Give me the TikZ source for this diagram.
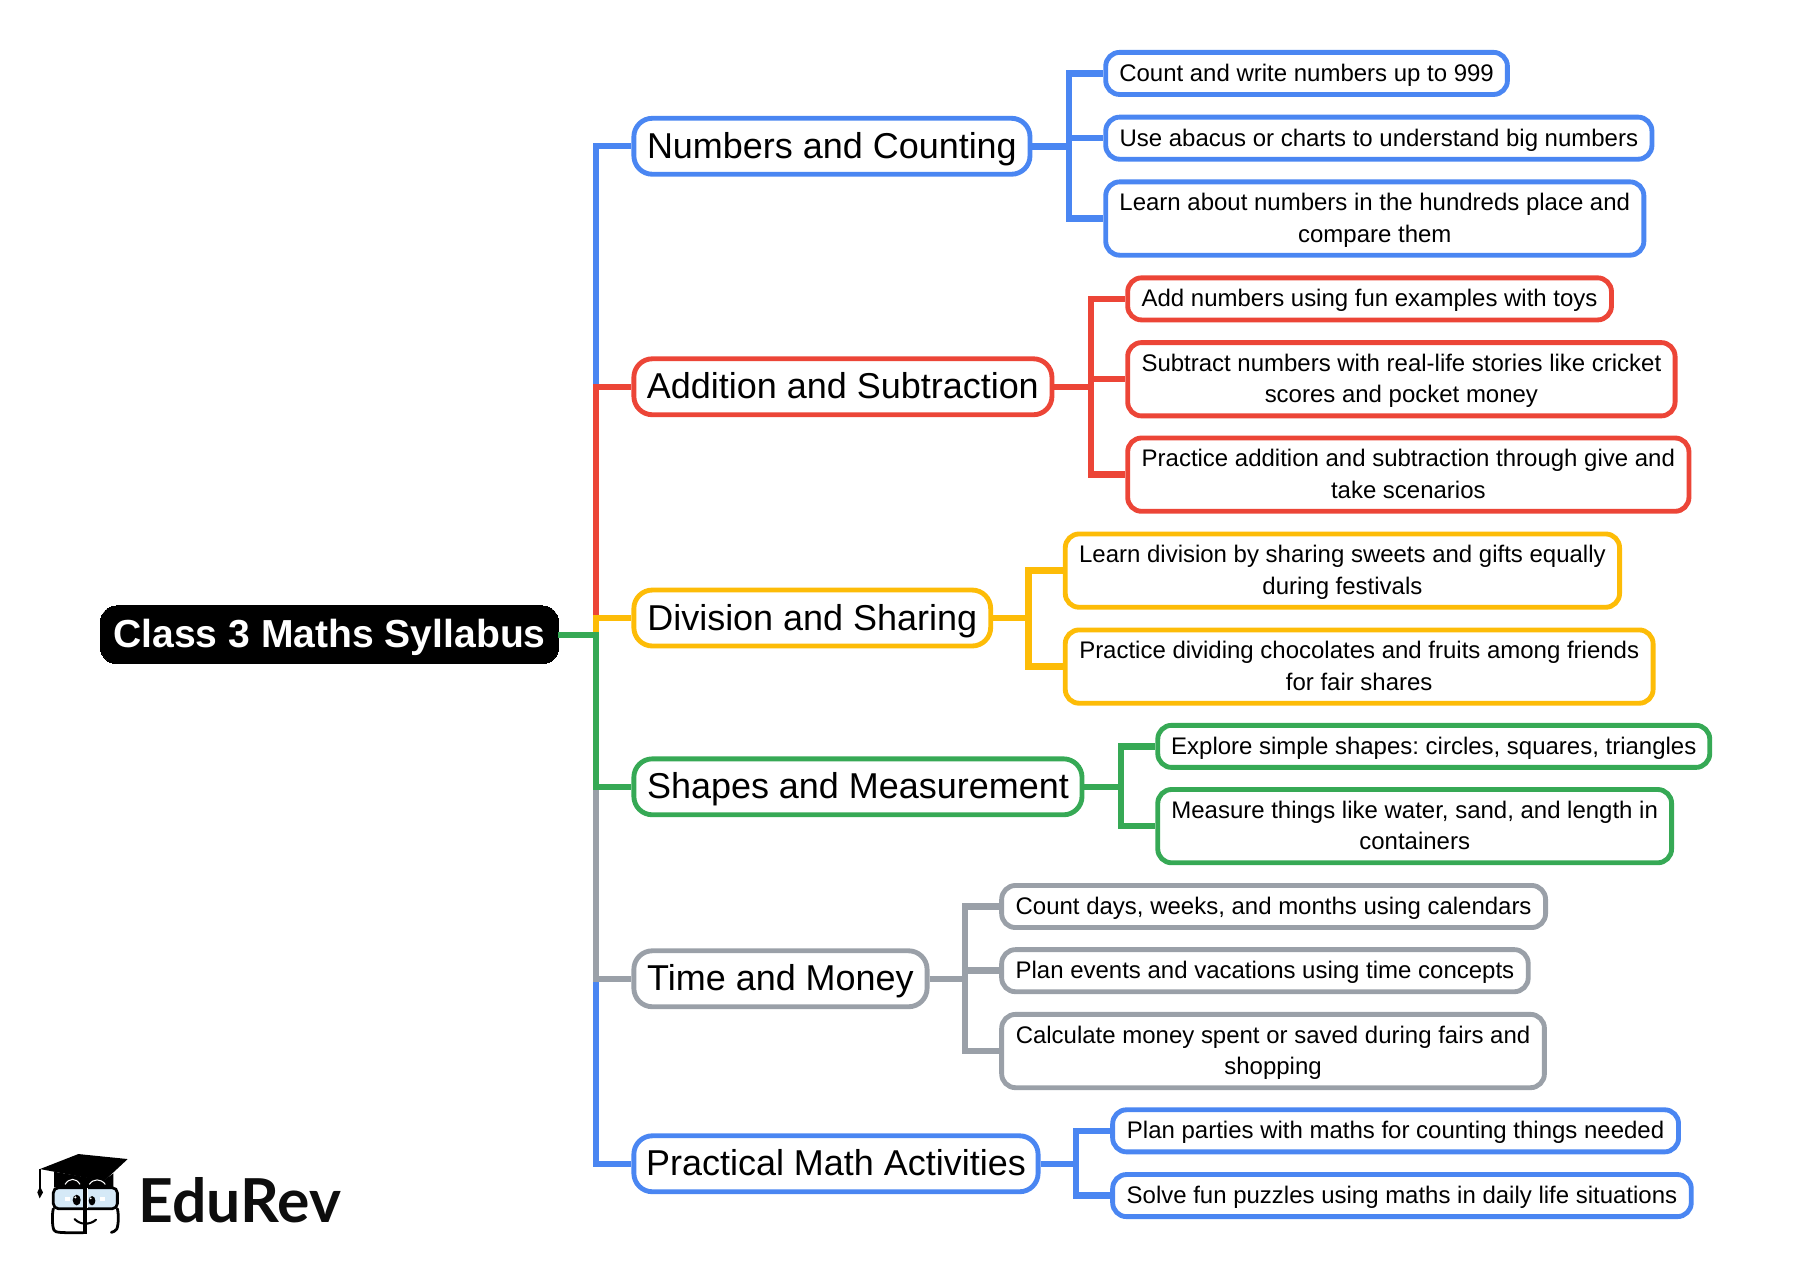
\documentclass[tikz,border=0pt]{standalone}
\usepackage{fontspec}
\setmainfont{Liberation Sans}
\newfontfamily\logofont{Lato}
\AtBeginDocument{\frenchspacing}
\definecolor{cblue}{HTML}{4A86F2}
\definecolor{cred}{HTML}{EC4537}
\definecolor{cyellow}{HTML}{FDBC07}
\definecolor{cgreen}{HTML}{36A955}
\definecolor{cgrey}{HTML}{9AA0A8}
\definecolor{lensblue}{HTML}{D5E9F7}
\newcommand{\topstrut}{\rule{0pt}{10.9pt}}
\tikzset{
  rootbox/.style={draw=black,fill=black,text=white,line width=0pt,rounded corners=7pt,inner sep=0pt,
    minimum width=198pt,minimum height=25pt,text height=13pt,text depth=2pt,font=\fontsize{16.9}{20}\selectfont\bfseries},
  branchbox/.style={draw=#1,fill=white,text=black,line width=2.1pt,rounded corners=8pt,inner sep=0pt,
    minimum height=24.2pt,text height=13pt,text depth=2.5pt,font=\fontsize{15.55}{20}\selectfont},
  leafbox/.style={draw=#1,fill=white,text=black,line width=2.1pt,rounded corners=6pt,inner sep=0pt,align=center,
    font=\fontsize{10.37}{13.6}\selectfont},
  one/.style={minimum height=18.2pt},
  two/.style={minimum height=31.7pt},
  trunkline/.style={draw=#1,line width=2.5pt},
  twigline/.style={draw=#1,line width=2.8pt},
}
\begin{document}
\begin{tikzpicture}[x=0.5pt,y=-0.5pt]
\useasboundingbox (0,0) rectangle (1568,1097.5);
% root
\node[rootbox] (root) at (285,549) {Class 3 Maths Syllabus};
% branches
\node[branchbox=cblue,minimum width=171.3pt] (nc) at (719.5,126.5) {Numbers and Counting};
\node[branchbox=cred,minimum width=180.8pt] (as) at (729,334.5) {Addition and Subtraction};
\node[branchbox=cyellow,minimum width=154.3pt] (ds) at (702.5,534.5) {Division and Sharing};
\node[branchbox=cgreen,minimum width=193.8pt] (sm) at (742,680.5) {Shapes and Measurement};
\node[branchbox=cgrey,minimum width=126.8pt] (tm) at (675,846.5) {Time and Money};
\node[branchbox=cblue,minimum width=174.8pt] (pa) at (723,1006.5) {Practical Math Activities};
% leaves
\node[leafbox=cblue,one,minimum width=173.7pt] (n1) at (1130,63.5) {\topstrut Count and write numbers up to 999\strut};
\node[leafbox=cblue,one,minimum width=236.2pt] (n2) at (1192.5,119.5) {\topstrut Use abacus or charts to understand big numbers\strut};
\node[leafbox=cblue,two,minimum width=232.7pt] (n3) at (1189,189) {\topstrut Learn about numbers in the hundreds place and\\compare them\strut};
\node[leafbox=cred,one,minimum width=209.2pt] (a1) at (1184.5,258.5) {\topstrut Add numbers using fun examples with toys\strut};
\node[leafbox=cred,two,minimum width=236.7pt] (a2) at (1212,328) {\topstrut Subtract numbers with real-life stories like cricket\\scores and pocket money\strut};
\node[leafbox=cred,two,minimum width=242.7pt] (a3) at (1218,410.5) {\topstrut Practice addition and subtraction through give and\\take scenarios\strut};
\node[leafbox=cyellow,two,minimum width=239.7pt] (d1) at (1161,493.5) {\topstrut Learn division by sharing sweets and gifts equally\\during festivals\strut};
\node[leafbox=cyellow,two,minimum width=254.2pt] (d2) at (1175.5,576.5) {\topstrut Practice dividing chocolates and fruits among friends\\for fair shares\strut};
\node[leafbox=cgreen,one,minimum width=238.7pt] (s1) at (1240,645.5) {\topstrut Explore simple shapes: circles, squares, triangles\strut};
\node[leafbox=cgreen,two,minimum width=222.2pt] (s2) at (1223.5,714.5) {\topstrut Measure things like water, sand, and length in\\containers\strut};
\node[leafbox=cgrey,one,minimum width=235.2pt] (t1) at (1101.5,784) {\topstrut Count days, weeks, and months using calendars\strut};
\node[leafbox=cgrey,one,minimum width=227.7pt] (t2) at (1094,839.5) {\topstrut Plan events and vacations using time concepts\strut};
\node[leafbox=cgrey,two,minimum width=234.7pt] (t3) at (1101,909) {\topstrut Calculate money spent or saved during fairs and\\shopping\strut};
\node[leafbox=cblue,one,minimum width=244.7pt] (p1) at (1207,978) {\topstrut Plan parties with maths for counting things needed\strut};
\node[leafbox=cblue,one,minimum width=250.2pt] (p2) at (1212.5,1034) {\topstrut Solve fun puzzles using maths in daily life situations\strut};
% junction columns
\coordinate (jr) at (515.5,0);
\coordinate (jn) at (924.5,0);
\coordinate (ja) at (943.5,0);
\coordinate (jd) at (889.5,0);
\coordinate (js) at (969.5,0);
\coordinate (jt) at (834.5,0);
\coordinate (jp) at (930.5,0);
% root connectors
\draw[trunkline=cblue] (root.east) -- (jr|-root.east) |- (nc.west);
\draw[trunkline=cred] (root.east) -- (jr|-root.east) |- (as.west);
\draw[trunkline=cyellow] (root.east) -- (jr|-root.east) |- (ds.west);
\draw[trunkline=cblue] (root.east) -- (jr|-root.east) |- (pa.west);
\draw[trunkline=cgrey] (root.east) -- (jr|-root.east) |- (tm.west);
\draw[trunkline=cgreen] (root.east) -- (jr|-root.east) |- (sm.west);
% branch connectors
\foreach \l in {n1,n2,n3} \draw[twigline=cblue] (nc.east) -- (jn|-nc.east) |- (\l.west);
\foreach \l in {a1,a2,a3} \draw[twigline=cred] (as.east) -- (ja|-as.east) |- (\l.west);
\foreach \l in {d1,d2} \draw[twigline=cyellow] (ds.east) -- (jd|-ds.east) |- (\l.west);
\foreach \l in {s1,s2} \draw[twigline=cgreen] (sm.east) -- (js|-sm.east) |- (\l.west);
\foreach \l in {t1,t2,t3} \draw[twigline=cgrey] (tm.east) -- (jt|-tm.east) |- (\l.west);
\foreach \l in {p1,p2} \draw[twigline=cblue] (pa.east) -- (jp|-pa.east) |- (\l.west);
% logo
\node[anchor=base west,inner sep=0pt,text=black!95] (edurev) at (119.5,1057) {\logofont\bfseries\fontsize{26.2}{30}\selectfont EduRev};
\begin{scope}[shift={(25.95,990.3)},x=0.1442pt,y=-0.1442pt]
  \fill[black] (72,80) -- (222,106) -- (250,85) -- (250,127) -- (72,127) -- cycle;
  \fill[black] (30,72) -- (145,27) -- (293,42) -- (222,108) -- cycle;
  \draw[white,line width=0.45pt] (105,118) .. controls (118,98) and (138,98) .. (150,118);
  \draw[white,line width=0.45pt] (178,118) .. controls (190,100) and (212,100) .. (226,118);
  \draw[black,line width=0.7pt] (30,72) -- (30,128);
  \fill[black] (30,124) -- (22,142) -- (29,160) -- (39,142) -- cycle;
  \draw[black,line width=1.2pt,fill=lensblue,rounded corners=2.2pt] (70,128) rectangle (262,191);
  \draw[black,line width=1.2pt,line cap=round] (70,191) .. controls (66,205) and (66,245) .. (72,255) .. controls (76,263) and (90,263) .. (160,263);
  \draw[black,line width=1.2pt,line cap=round] (262,191) .. controls (266,205) and (266,240) .. (260,252) .. controls (256,258) and (250,260) .. (244,262);
  \draw[black,line width=1.4pt] (165,122) -- (165,268);
  \draw[white,line width=0.4pt] (171,130) -- (171,190);
  \fill[black] (140,165) ellipse [x radius=12,y radius=16];
  \fill[black] (186,167) ellipse [x radius=10,y radius=14];
  \fill[white] (136,157) circle [radius=3.5];
  \fill[white] (182,160) circle [radius=3];
  \fill[white] (106,156) rectangle (120,168);
  \fill[white] (210,156) rectangle (224,168);
  \draw[black,line width=0.9pt,line cap=round] (134,222) .. controls (150,240) and (180,240) .. (198,224);
\end{scope}
\end{tikzpicture}
\end{document}
